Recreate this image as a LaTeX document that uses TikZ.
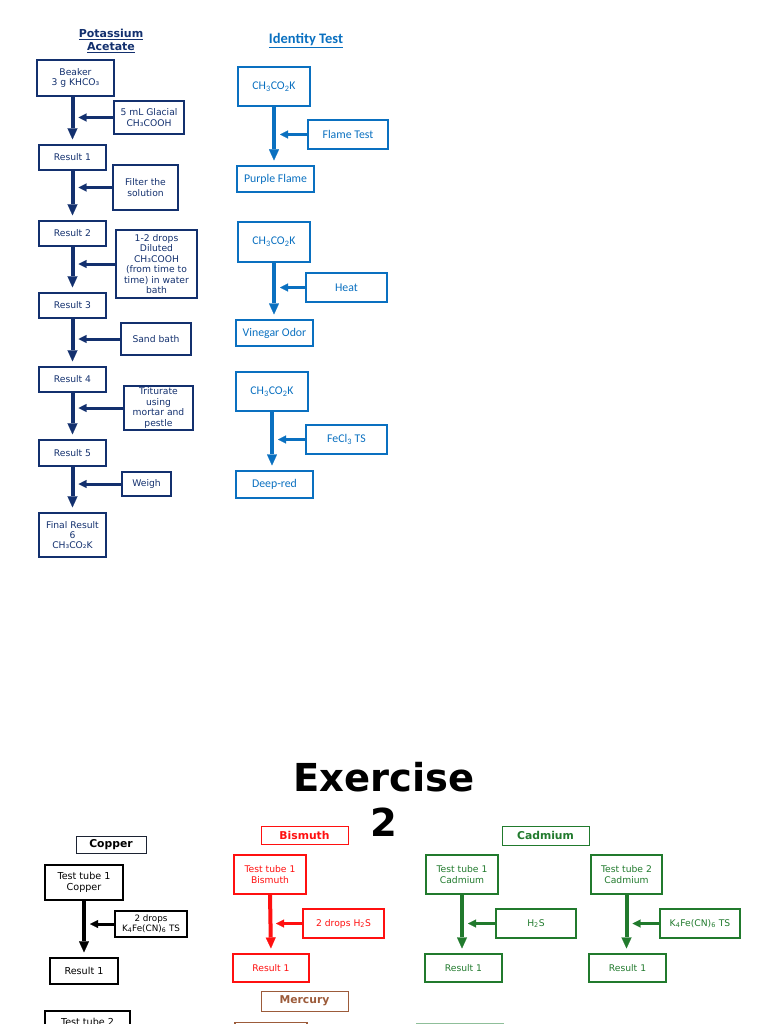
\documentclass[tikz,border=0pt]{standalone}
\usepackage{fontspec}
\setmainfont{DejaVu Sans}
\newfontfamily\calibri{Carlito}
\usetikzlibrary{arrows.meta}
\definecolor{cNavy}{HTML}{13306E}
\definecolor{cBlue}{HTML}{0A70C0}
\definecolor{cRed}{HTML}{FF1010}
\definecolor{cGreen}{HTML}{217A2D}
\definecolor{cBrown}{HTML}{9C5B3A}
\definecolor{cPale}{HTML}{8FBF9A}
\definecolor{cCopper}{HTML}{1C2333}
\tikzset{
  stepbox/.style  ={draw, align=center, line width=1.3pt, inner sep=1pt,
                    font=\fontsize{9.2}{10.4}\selectfont},
  boxsize/.style 2 args={minimum width=#1pt, minimum height=#2pt},
  navybox/.style  ={stepbox, draw=cNavy, text=cNavy},
  bluebox/.style  ={stepbox, draw=cBlue, text=cBlue, line width=1.1pt,
                    font=\calibri\fontsize{11.8}{13}\selectfont},
  cubox/.style    ={stepbox, draw=black, text=black,
                    font=\fontsize{9.6}{11}\selectfont},
  bibox/.style    ={stepbox, draw=cRed, text=cRed, line width=1.1pt},
  cdbox/.style    ={stepbox, draw=cGreen, text=cGreen, line width=1.1pt},
  hgbox/.style    ={stepbox, draw=cBrown, text=cBrown, line width=1.1pt},
  titlebox/.style ={stepbox, line width=1pt,
                    font=\bfseries\fontsize{10.8}{12}\selectfont},
  heading/.style  ={align=center, inner sep=0pt,
                    font=\bfseries\fontsize{11}{13}\selectfont},
  vflow/.style    ={-{Triangle[width=10pt, length=11pt, line width=0.1pt]},
                    line width=4pt, shorten >=5pt},
  hflow/.style    ={-{Triangle[width=8pt, length=8pt, line width=0.1pt]},
                    line width=3pt, shorten >=6pt},
}

\begin{document}
\begin{tikzpicture}[x=1pt, y=-1pt]
  \useasboundingbox (0,0) rectangle (768,1024);
  \clip (0,0) rectangle (768,1024);

  % ============================================================
  % POTASSIUM ACETATE (left column)
  % ============================================================
  \node[heading, text=cNavy] (katitle) at (111,41)
    {\underline{Potassium}\\\underline{Acetate}};

  \node[navybox, boxsize={77}{36}] (beaker) at (75.5,78)   {Beaker\\3 g KHCO₃};
  \node[navybox, boxsize={70}{33}] (glacial) at (149,117.5) {5 mL Glacial\\CH₃COOH};
  \node[navybox, boxsize={67}{25}] (res1) at (72.5,157.5)  {Result 1};
  \node[navybox, boxsize={65}{45}] (filter) at (145.5,187.5) {Filter the\\solution};
  \node[navybox, boxsize={67}{25}] (res2) at (72.5,233.5)  {Result 2};
  \node[navybox, boxsize={81}{68}] (drops) at (156.5,264)
    {1-2 drops\\Diluted\\CH₃COOH\\(from time to\\time) in water\\bath};
  \node[navybox, boxsize={67}{25}] (res3) at (72.5,305.5)  {Result 3};
  \node[navybox, boxsize={70}{32}] (sand) at (156,339)     {Sand bath};
  \node[navybox, boxsize={67}{25}] (res4) at (72.5,379.5)  {Result 4};
  \node[navybox, boxsize={69}{44}] (trit) at (158.5,408)
    {Triturate\\using\\mortar and\\pestle};
  \node[navybox, boxsize={67}{26}] (res5) at (72.5,453)    {Result 5};
  \node[navybox, boxsize={49}{24}] (weigh) at (146.5,484)  {Weigh};
  \node[navybox, boxsize={67}{44}] (final) at (72.5,535)
    {Final Result\\6\\CH₃CO₂K};

  \foreach \a/\b in {beaker/res1, res1/res2, res2/res3, res3/res4,
                     res4/res5, res5/final}
    \draw[vflow, cNavy] (\b.north |- \a.south) -- (\b.north);
  \foreach \r/\m in {glacial/res1, filter/res1, drops/res2,
                     sand/res3, trit/res4, weigh/res5}
    \draw[hflow, cNavy] (\r.west) -- (\r.west -| \m.south);

  % ============================================================
  % IDENTITY TEST (right column)
  % ============================================================
  \node[heading, text=cBlue, font=\calibri\bfseries\fontsize{14.5}{16}\selectfont]
    (idtitle) at (306,41) {\underline{Identity Test}};

  \node[bluebox, boxsize={72}{39}] (id1) at (274,86.5)     {CH\textsubscript{3}CO\textsubscript{2}K};
  \node[bluebox, boxsize={80}{29}] (flame) at (348,134.5)  {Flame Test};
  \node[bluebox, boxsize={77}{26}] (purple) at (275.5,179) {Purple Flame};

  \node[bluebox, boxsize={72}{40}] (id2) at (274,242)      {CH\textsubscript{3}CO\textsubscript{2}K};
  \node[bluebox, boxsize={81}{29}] (heat) at (346.5,287.5) {Heat};
  \node[bluebox, boxsize={77}{26}] (odor) at (274.5,333)   {Vinegar Odor};

  \node[bluebox, boxsize={72}{39}] (id3) at (272,391.5)    {CH\textsubscript{3}CO\textsubscript{2}K};
  \node[bluebox, boxsize={81}{29}] (fecl) at (346.5,439.5) {FeCl\textsubscript{3} TS};
  \node[bluebox, boxsize={77}{27}] (deep) at (274.5,484.5) {Deep-red};

  \foreach \a/\b/\r in {id1/purple/flame, id2/odor/heat, id3/deep/fecl} {
    \draw[vflow, cBlue] (\a.south) -- (\a.south |- \b.north);
    \draw[hflow, cBlue] (\r.west) -- (\r.west -| \a.south);
  }

  % ============================================================
  % EXERCISE 2 (bottom)
  % ============================================================
  \node[align=center, font=\bfseries\fontsize{38.5}{45}\selectfont]
    (extitle) at (384,799) {Exercise\\2};

  % Copper
  \node[titlebox, draw=cCopper, boxsize={70}{17}] (cutitle) at (111,844.5) {Copper};
  \node[cubox, line width=1.8pt, boxsize={78}{35}] (cu1) at (84,882.5) {Test tube 1\\Copper};
  \node[cubox, boxsize={72}{26}, font=\fontsize{8.8}{9.8}\selectfont] (cureag) at (151,924)
    {2 drops\\K\textsubscript{4}Fe(CN)\textsubscript{6} TS};
  \node[cubox, boxsize={68}{26}] (cures) at (84,971) {Result 1};
  \node[cubox, line width=1.8pt, minimum width=85pt, anchor=north,
        inner ysep=7pt, text depth=20pt] (cu2) at (87.5,1010) {Test tube 2};

  \draw[vflow, black] (cu1.south) -- (cures.north);
  \draw[hflow, black] (cureag.west) -- (cureag.west -| cu1.south);

  % Bismuth
  \node[titlebox, draw=cRed, text=cRed, boxsize={87}{18}] (bititle) at (304.5,835) {Bismuth};
  \node[bibox, boxsize={72}{39}] (bi1) at (270,874.5) {Test tube 1\\Bismuth};
  \node[bibox, boxsize={81}{29}] (bireag) at (343.5,923.5) {2 drops H\textsubscript{2}S};
  \node[bibox, boxsize={76}{28}] (bires) at (271,968) {Result 1};

  \draw[vflow, cRed] (bi1.south) -- (bires.north);
  \draw[hflow, cRed] (bireag.west) -- (bireag.west -| bi1.south);

  % Mercury
  \node[titlebox, draw=cBrown, text=cBrown, boxsize={87}{20}] (hgtitle) at (304.5,1001) {Mercury};
  \node[hgbox, boxsize={72}{30}, anchor=north] (hg1) at (271,1022) {};

  % Cadmium
  \node[titlebox, draw=cGreen, text=cGreen, boxsize={87}{19}] (cdtitle) at (545.5,835.5) {Cadmium};
  \node[cdbox, boxsize={72}{39}] (cd1) at (462,874.5) {Test tube 1\\Cadmium};
  \node[cdbox, boxsize={80}{29}] (cdreag) at (536,923.5) {H\textsubscript{2}S};
  \node[cdbox, boxsize={77}{28}] (cdres) at (463.5,968) {Result 1};

  \node[cdbox, boxsize={71}{39}] (cd2) at (626.5,874.5) {Test tube 2\\Cadmium};
  \node[cdbox, boxsize={80}{29}] (cd2reag) at (700,923.5)
    {K\textsubscript{4}Fe(CN)\textsubscript{6} TS};
  \node[cdbox, boxsize={77}{28}] (cd2res) at (627.5,968) {Result 1};

  \node[cdbox, draw=cPale, boxsize={86}{30}, anchor=north] (cd3) at (460,1023) {};

  \foreach \a/\b/\r in {cd1/cdres/cdreag, cd2/cd2res/cd2reag} {
    \draw[vflow, cGreen] (\a.south) -- (\a.south |- \b.north);
    \draw[hflow, cGreen] (\r.west) -- (\r.west -| \a.south);
  }

\end{tikzpicture}
\end{document}
